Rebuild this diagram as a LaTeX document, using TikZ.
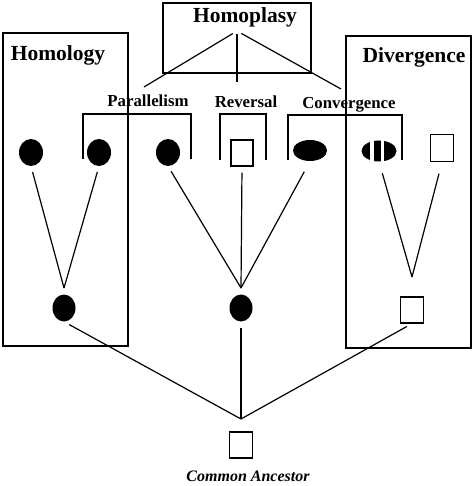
\documentclass[tikz,border=0pt]{standalone}
\usepackage{fontspec}
\setmainfont{Liberation Serif}
\usetikzlibrary{shapes.geometric}
\begin{document}
\begin{tikzpicture}[x=1pt,y=-1pt,
  frame/.style={draw,line width=1.3pt},
  conn/.style={draw,line width=1.2pt},
  blob/.style={ellipse,fill=black,draw=none,inner sep=0pt,minimum width=24pt,minimum height=27pt},
  flatblob/.style={ellipse,fill=black,draw=none,inner sep=0pt,minimum width=34pt,minimum height=21pt},
  sq/.style={rectangle,draw,line width=1.2pt,inner sep=0pt,minimum width=22pt,minimum height=26pt},
  big/.style={font=\bfseries\fontsize{21.5}{21.5}\selectfont,anchor=base,inner sep=0pt},
  mid/.style={font=\bfseries\fontsize{16.8}{16.8}\selectfont,anchor=base,inner sep=0pt},
]
\useasboundingbox (0,0) rectangle (474,486);
\fill[white] (0,0) rectangle (474,486);
% frames
\draw[frame] (163,3) rectangle (311,73);
\draw[frame] (3,33) rectangle (128,346);
\draw[frame] (346,36) rectangle (471,348);
% titles
\node[big] (thp) at (245,23) {Homoplasy};
\node[big] (tho) at (58,61) {Homology};
\node[big] (tdv) at (414,63) {Divergence};
\node[mid] (tpa) at (148,107) {Parallelism};
\node[mid] (tre) at (246,108) {Reversal};
\node[mid] (tco) at (349,109) {Convergence};
\node[font=\bfseries\itshape\fontsize{16}{16}\selectfont,anchor=base,inner sep=0pt] (tca) at (248,481) {Common Ancestor};
% homoplasy fan
\coordinate (hp) at (237,31);
\coordinate (hpl) at (144,87);
\coordinate (hpm) at (237,82);
\coordinate (hpr) at (341,89);
\draw[conn,shorten <=5pt] (hp) -- (hpl);
\draw[conn,shorten <=3pt] (hp) -- (hpm);
\draw[conn,shorten <=5pt] (hp) -- (hpr);
% brackets
\draw[frame,line width=1.2pt] (83,159) |- (191,114) -- (191,159);
\draw[frame,line width=1.2pt] (220,160) |- (266,114) -- (266,160);
\draw[frame,line width=1.2pt] (288,160) |- (402,115) -- (402,160);
% top row
\node[blob] (e1) at (31,152.5) {};
\node[blob] (e2) at (99,152.5) {};
\node[blob] (e3) at (168,152.5) {};
\node[sq] (s1) at (242,153) {};
\node[flatblob] (he) at (310,150.5) {};
\node[flatblob,minimum width=35pt] (st) at (379,151) {};
\fill[white] (370,138) rectangle (373.5,164);
\fill[white] (380.5,138) rectangle (384,164);
\node[sq,minimum width=23pt,minimum height=27pt] (s2) at (442,148) {};
% middle row
\node[blob,minimum width=23pt] (hm) at (64,308) {};
\node[blob,minimum width=23pt] (cm) at (241,308) {};
\node[sq,minimum width=23pt] (dv) at (412,310) {};
\node[sq,minimum width=23pt] (anc) at (241,445) {};
% apexes
\coordinate (va) at (64,288);
\coordinate (vb) at (241,288);
\coordinate (vc) at (412,277);
\coordinate (vd) at (241,419);
% connectors
\draw[conn,shorten <=6pt] (e1.south) -- (va);
\draw[conn,shorten <=6pt] (e2.south) -- (va);
\draw[conn,shorten <=6pt] (e3.south) -- (vb);
\draw[conn,shorten <=6pt] (s1.south) -- (vb);
\draw[conn,shorten <=12pt] (he.south) -- (vb);
\draw[conn,shorten <=12pt] (st.south) -- (vc);
\draw[conn,shorten <=12pt] (s2.south) -- (vc);
\draw[conn,shorten <=6pt] (hm.south) -- (vd);
\draw[conn,shorten <=6pt] (cm.south) -- (vd);
\draw[conn,shorten <=6pt] (dv.south) -- (vd);
\end{tikzpicture}
\end{document}
